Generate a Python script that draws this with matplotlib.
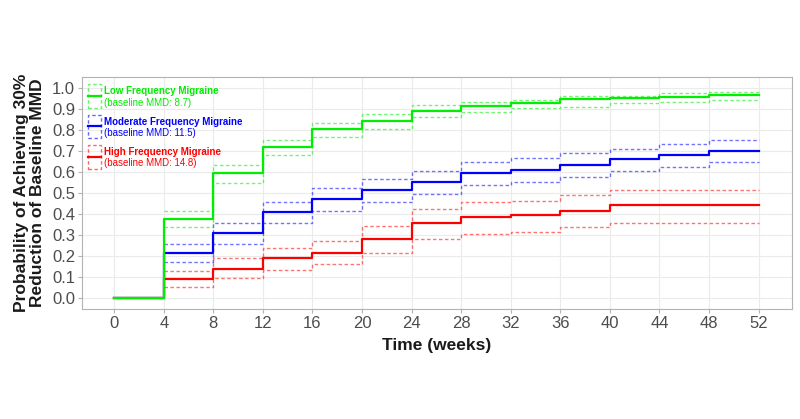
import matplotlib
matplotlib.use("Agg")
import matplotlib.pyplot as plt
from matplotlib.patches import Rectangle
from matplotlib.lines import Line2D
import numpy as np

plt.rcParams['font.family'] = ['Liberation Sans', 'DejaVu Sans']

# weeks at which each step starts (last value held to week 52)
weeks = [0, 4, 8, 12, 16, 20, 24, 28, 32, 36, 40, 44, 48, 52]

low_est = [0, 0.376, 0.593, 0.720, 0.804, 0.843, 0.891, 0.914, 0.927, 0.946, 0.951, 0.959, 0.967]
low_lo = [0, 0.336, 0.546, 0.679, 0.765, 0.804, 0.860, 0.884, 0.903, 0.911, 0.927, 0.935, 0.943]
low_hi = [0, 0.416, 0.634, 0.755, 0.836, 0.875, 0.919, 0.935, 0.943, 0.963, 0.963, 0.978, 0.982]

mod_est = [0, 0.214, 0.307, 0.409, 0.472, 0.514, 0.552, 0.594, 0.612, 0.634, 0.662, 0.680, 0.702]
mod_lo = [0, 0.169, 0.257, 0.355, 0.415, 0.455, 0.494, 0.537, 0.553, 0.577, 0.606, 0.625, 0.646]
mod_hi = [0, 0.256, 0.355, 0.457, 0.525, 0.565, 0.604, 0.646, 0.668, 0.689, 0.712, 0.733, 0.752]

high_est = [0, 0.088, 0.140, 0.188, 0.216, 0.280, 0.359, 0.386, 0.393, 0.413, 0.442, 0.442, 0.442]
high_lo = [0, 0.050, 0.097, 0.132, 0.161, 0.212, 0.281, 0.305, 0.313, 0.336, 0.356, 0.356, 0.356]
high_hi = [0, 0.126, 0.188, 0.240, 0.272, 0.343, 0.426, 0.456, 0.463, 0.490, 0.514, 0.514, 0.514]

groups = ['Low Frequency Migraine', 'Moderate Frequency Migraine', 'High Frequency Migraine']
baseline = ['(baseline MMD: 8.7)', '(baseline MMD: 11.5)', '(baseline MMD: 14.8)']
colors = ['#00EE00', '#0000FF', '#FF0000']

W, H = 800, 419
fig = plt.figure(figsize=(W / 100, H / 100), dpi=100)
ax = fig.add_axes([82 / W, 1 - 309 / H, (792 - 82) / W, (309 - 77) / H])

series = [(low_est, low_lo, low_hi), (mod_est, mod_lo, mod_hi), (high_est, high_lo, high_hi)]

def hold(v):
    return list(v) + [v[-1]]

# CIs first (they start at week 4), then estimates (green on top)
for (est, lo, hi), c in zip(series[::-1], colors[::-1]):
    for ci in (lo, hi):
        ax.step(weeks[1:], hold(ci)[1:], where='post', color=c, lw=1.0, alpha=0.55,
                linestyle=(0, (2.5, 1.8)))
for (est, lo, hi), c in zip(series[::-1], colors[::-1]):
    ax.step(weeks, hold(est), where='post', color=c, lw=1.6)

ax.set_xlim(-2.6, 54.7)
ax.set_ylim(-0.053, 1.053)
ax.set_xticks(range(0, 53, 4))
ax.set_yticks(np.round(np.arange(0, 1.01, 0.1), 1))
ax.set_yticklabels([f'{t:.1f}' for t in np.arange(0, 1.01, 0.1)])
ax.grid(True, color='#EBEBEB', lw=0.8)
ax.set_axisbelow(True)
for s in ax.spines.values():
    s.set_color('#B3B3B3')
    s.set_linewidth(0.8)
ax.tick_params(axis='both', colors='#B3B3B3', length=3, width=0.8,
               labelsize=12, labelcolor='#4D4D4D', pad=2)

ax.set_xlabel('Time (weeks)', fontsize=12.5, fontweight='bold', color='#1A1A1A', labelpad=5)
ax.set_ylabel('Probability of Achieving 30%\nReduction of Baseline MMD', fontsize=12.5,
              fontweight='bold', color='#1A1A1A', labelpad=5, linespacing=1.05)

# legend drawn by hand in pixel positions
def fx(x):
    return x / W

def fy(y):
    return 1 - y / H

for i, (g, b, c) in enumerate(zip(groups, baseline, colors)):
    top = 84 + i * 30.5
    fig.patches.append(Rectangle((fx(88), fy(top + 24)), fx(101) - fx(88), fy(top) - fy(top + 24),
                                 transform=fig.transFigure, fill=False, edgecolor=c, alpha=0.6,
                                 lw=1.0, linestyle=(0, (2.5, 1.8))))
    fig.lines.append(Line2D([fx(88), fx(101)], [fy(top + 12), fy(top + 12)],
                            transform=fig.transFigure, color=c, lw=1.6))
    fig.text(fx(104), fy(top + 7), g, color=c, fontsize=7, fontweight='bold', va='center')
    fig.text(fx(104), fy(top + 18.5), b, color=c, fontsize=7, va='center')

fig.savefig('out.png', dpi=100)
